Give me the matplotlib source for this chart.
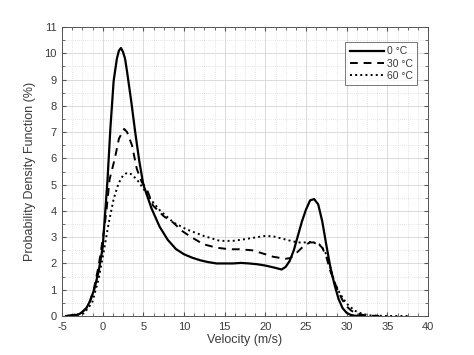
import numpy as np
import matplotlib.pyplot as plt
from matplotlib.ticker import MultipleLocator

plt.rcParams['font.family'] = ['Liberation Sans', 'DejaVu Sans']
plt.rcParams['axes.unicode_minus'] = False

# velocity (m/s) and PDF (%)
v_0 = [-4.5, -3, -2.5, -2, -1.5, -1, -0.5, 0, 0.3, 0.6, 0.95, 1.35, 1.75, 2.0, 2.25, 2.5,
       2.75, 3.0, 3.5, 4.0, 4.5, 5.0, 6, 7, 8, 9, 10, 11, 12, 13, 14, 15, 16, 17, 18, 19,
       20, 21, 22, 22.5, 23, 23.5, 24, 24.5, 25, 25.5, 26, 26.5, 27, 27.5, 28, 28.5, 29,
       29.5, 30, 30.5, 31, 32]
pdf_0 = [0, 0.05, 0.15, 0.3, 0.6, 1.05, 1.7, 2.6, 3.9, 5.2, 7.15, 8.95, 9.8, 10.1, 10.2, 10.05,
         9.8, 9.3, 8.2, 7.0, 5.9, 5.0, 4.1, 3.4, 2.9, 2.55, 2.35, 2.22, 2.12, 2.05, 2.0, 2.0,
         2.0, 2.02, 2.0, 1.97, 1.92, 1.85, 1.77, 1.87, 2.1, 2.5, 3.05, 3.6, 4.05, 4.4, 4.45,
         4.25, 3.6, 2.7, 1.85, 1.2, 0.65, 0.3, 0.12, 0.04, 0.01, 0]

v_30 = [-4.3, -2.7, -1.8, -1.1, -0.5, 0, 0.45, 0.85, 1.5, 2.0, 2.65, 3.0, 3.6, 4.2, 4.8,
        5.4, 6.2, 7.5, 8.7, 9.7, 10.9, 12.4, 14, 15.6, 16.8, 18.4, 20, 20.9, 22, 22.5, 23,
        23.5, 24, 24.5, 25, 25.5, 26, 26.5, 27, 27.5, 28, 28.5, 29, 29.5, 30, 30.5, 31,
        32, 33, 34]
pdf_30 = [0, 0.1, 0.36, 1.0, 1.9, 2.9, 3.95, 5.2, 6.0, 6.75, 7.12, 7.0, 6.5, 5.6, 5.1,
          4.85, 4.2, 3.8, 3.55, 3.25, 3.0, 2.73, 2.6, 2.54, 2.54, 2.5, 2.35, 2.26, 2.2, 2.18,
          2.2, 2.3, 2.45, 2.6, 2.72, 2.8, 2.8, 2.75, 2.6, 2.25, 1.7, 1.3, 0.9, 0.6, 0.37,
          0.22, 0.12, 0.04, 0.01, 0]

v_60 = [-4.4, -2.3, -1.3, -0.5, 0.1, 0.75, 1.35, 1.95, 2.5, 3.0, 3.5, 4.2, 5, 6, 7.1,
        8.7, 10.3, 12.4, 14.4, 16, 17, 18, 19, 20, 21, 22, 23, 24, 25, 25.6, 26.6, 27,
        27.5, 28, 28.5, 29, 29.5, 30, 31, 32, 33, 34, 35, 37.5]
pdf_60 = [0, 0.1, 0.5, 1.4, 2.4, 3.55, 4.45, 5.05, 5.35, 5.45, 5.4, 5.2, 4.85, 4.4, 4.0,
          3.56, 3.3, 3.05, 2.86, 2.86, 2.9, 2.95, 3.0, 3.05, 3.03, 2.95, 2.87, 2.8, 2.8,
          2.82, 2.73, 2.6, 2.35, 1.85, 1.3, 0.95, 0.7, 0.47, 0.2, 0.07, 0.02, 0.01, 0, 0]

fig = plt.figure(figsize=(4.74, 3.55), dpi=100)
ax = fig.add_axes([62 / 474, 1 - 316 / 355, 366 / 474, 289 / 355])

ax.plot(v_0, pdf_0, 'k-', lw=1.6, label='0 \u00b0C')
ax.plot(v_30, pdf_30, 'k--', lw=1.4, dashes=(4, 3), label='30 \u00b0C')
ax.plot(v_60, pdf_60, 'k:', lw=1.4, label='60 \u00b0C')

ax.set_xlim(-5, 40)
ax.set_ylim(0, 11)
ax.xaxis.set_major_locator(MultipleLocator(5))
ax.xaxis.set_minor_locator(MultipleLocator(1.25))
ax.yaxis.set_major_locator(MultipleLocator(1))
ax.yaxis.set_minor_locator(MultipleLocator(0.5))

ax.grid(which='major', color='#d4d4d4', lw=0.6, ls='-')
ax.grid(which='minor', color='#cccccc', lw=0.5, ls=(0, (1, 2)))
ax.set_axisbelow(True)

txt = '#3a3a3a'
ax.tick_params(which='both', direction='in', top=True, right=True, colors='#555555',
               labelcolor=txt, labelsize=8)
ax.tick_params(which='major', length=3, pad=4)
ax.tick_params(which='minor', length=2)
for s in ax.spines.values():
    s.set_color('#555555')
    s.set_linewidth(0.7)

ax.set_xlabel('Velocity (m/s)', fontsize=9, color=txt, labelpad=2)
ax.set_ylabel('Probability Density Function (%)', fontsize=9, color=txt, labelpad=6)

leg = ax.legend(loc='upper right', fontsize=7.5, frameon=True, fancybox=False,
                edgecolor='#555555', handlelength=3.3, handletextpad=0.3,
                borderpad=0.4, labelspacing=0.2, bbox_to_anchor=(0.985, 0.965))
leg.get_frame().set_linewidth(0.7)
for t in leg.get_texts():
    t.set_color(txt)

fig.savefig('out.png', dpi=100)
